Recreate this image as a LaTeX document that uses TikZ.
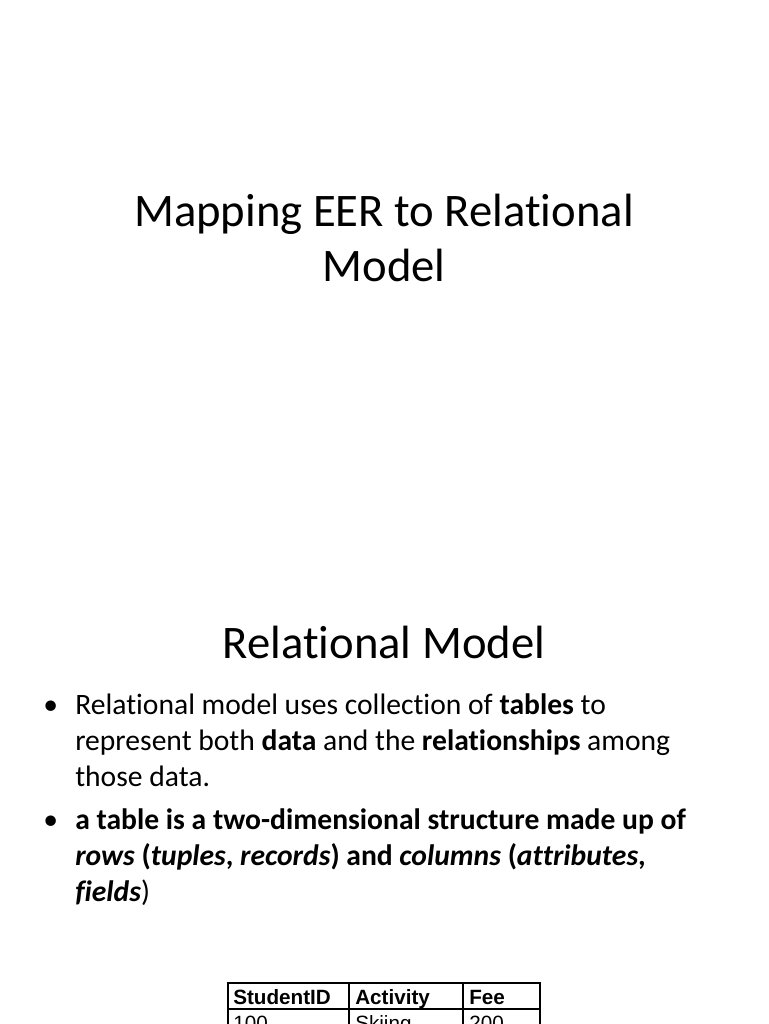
\documentclass[tikz,border=0pt]{standalone}
\usepackage{fontspec}
\setmainfont[Ligatures=NoCommon]{Carlito}
\newfontfamily\tabfont{Liberation Sans}
\begin{document}
\begin{tikzpicture}[x=0.75pt,y=-0.75pt,
  ttl/.style={font=\fontsize{35}{42}\selectfont,anchor=base,inner sep=0},
  body/.style={font=\fontsize{22.2}{26}\selectfont,anchor=base west,inner sep=0},
  cell/.style={font=\tabfont\fontsize{15.5}{18}\selectfont,anchor=base west,inner sep=0}]
\useasboundingbox (0,0) rectangle (768,1024);
\node[ttl] (t1) at (384,226) {Mapping EER to Relational};
\node[ttl] (t2) at (384,281) {Model};
\node[ttl] (t3) at (384,658) {Relational Model};
\node[body] (b1) at (43,714) {•};
\node[body] (l1) at (75,714) {Relational model uses collection of \textbf{tables} to};
\node[body] (l2) at (75,750) {represent both \textbf{data} and the \textbf{relationships} among};
\node[body] (l3) at (75,786) {those data.};
\node[body] (b2) at (43,829) {•};
\node[body] (l4) at (75,829) {\textbf{a table is a two-dimensional structure made up of}};
\node[body] (l5) at (75,865) {\textbf{\textit{rows} (\textit{tuples}, \textit{records}) and \textit{columns} (\textit{attributes},}};
\node[body] (l6) at (75,901) {\textbf{\textit{fields}})};
\begin{scope}
\clip (0,0) rectangle (768,1024);
\draw[line width=2.2pt] (228,983) rectangle (540,1040);
\draw[line width=1.2pt] (228,1009) -- (540,1009);
\draw[line width=1.2pt] (349,983) -- (349,1040);
\draw[line width=1.2pt] (463,983) -- (463,1040);
\node[cell] (h1) at (233,1004) {\textbf{StudentID}};
\node[cell] (h2) at (355,1004) {\textbf{Activity}};
\node[cell] (h3) at (469,1004) {\textbf{Fee}};
\node[cell] (c1) at (233,1030) {100};
\node[cell] (c2) at (355,1030) {Skiing};
\node[cell] (c3) at (469,1030) {200};
\end{scope}
\end{tikzpicture}
\end{document}
